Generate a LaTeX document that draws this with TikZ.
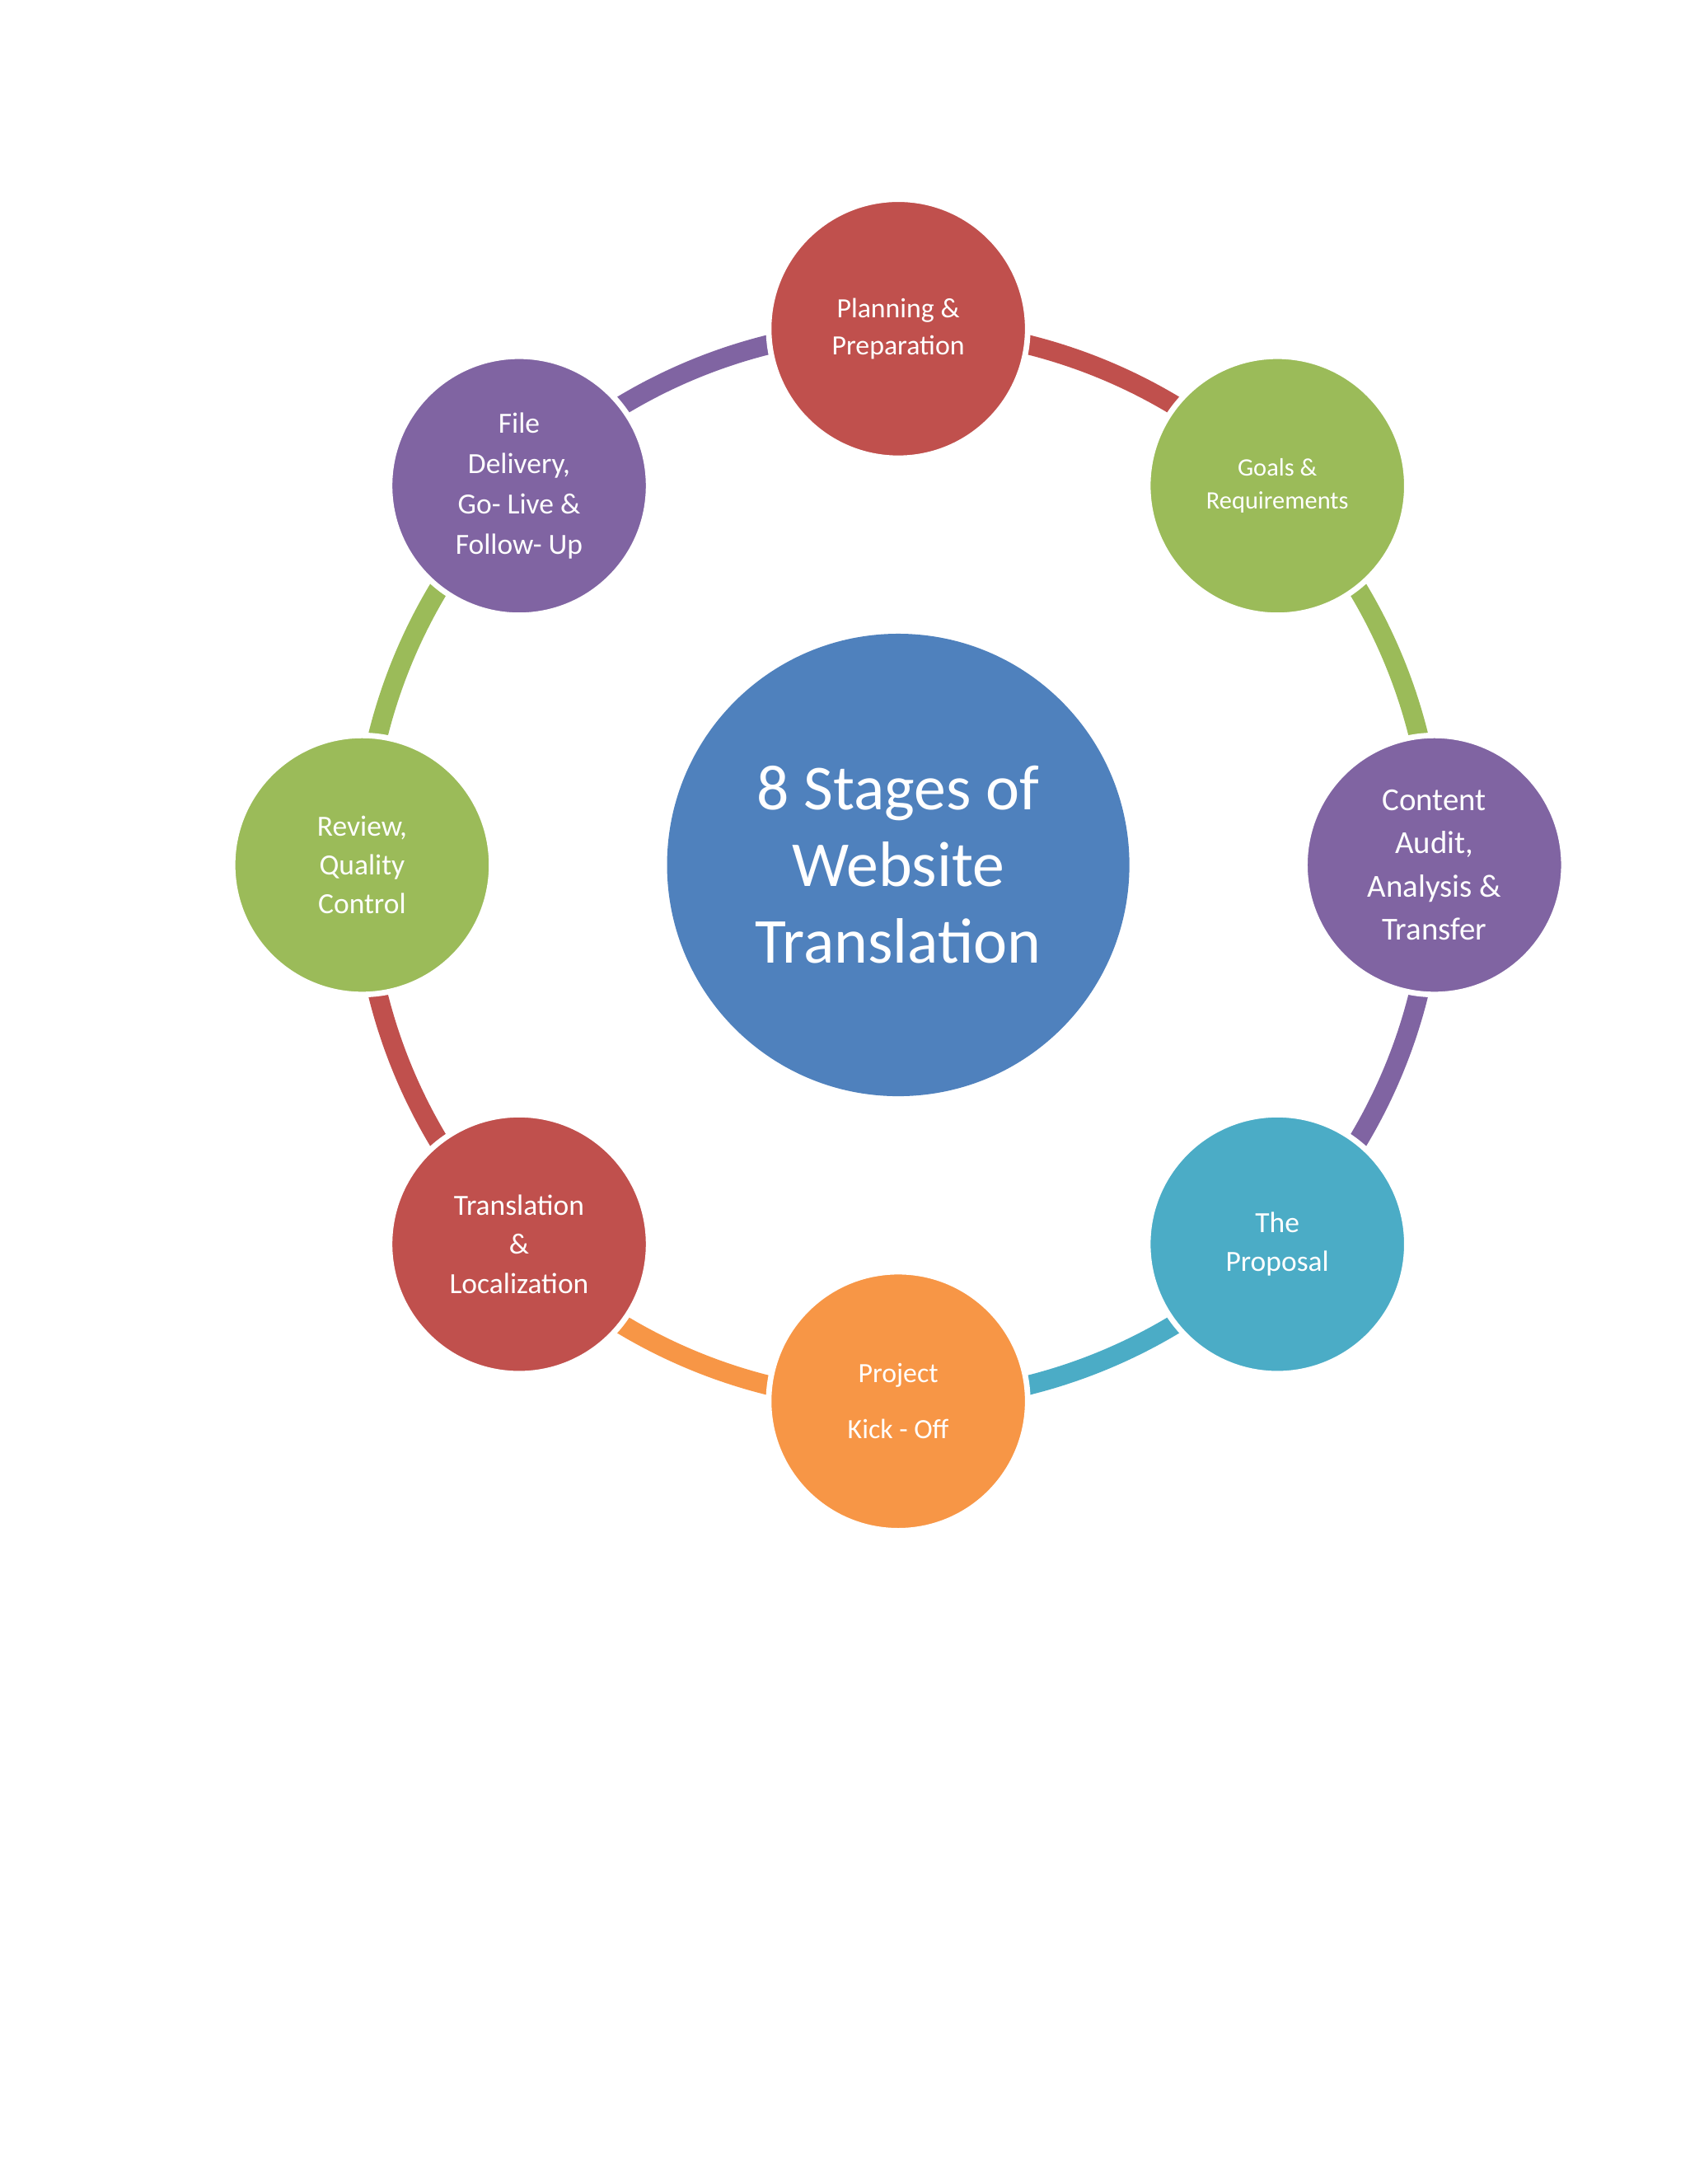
\documentclass[tikz,border=0pt]{standalone}
\usepackage{fontspec}
\setmainfont{Carlito}
\usetikzlibrary{calc}
\definecolor{cred}{HTML}{C0504D}
\definecolor{cgreen}{HTML}{9BBB59}
\definecolor{cpurple}{HTML}{8064A2}
\definecolor{cblue}{HTML}{4F81BD}
\definecolor{cteal}{HTML}{4BACC6}
\definecolor{corange}{HTML}{F79646}
\begin{document}
\begin{tikzpicture}[x=1pt,y=1pt,
  stage/.style={circle,minimum size=186pt,inner sep=0pt,draw=white,line width=4pt,text=white,align=center,font=\fontsize{20}{27}\selectfont},
  ring/.style={line width=14pt}]
\useasboundingbox[fill=white] (0,0) rectangle (1213,-1568);
\coordinate (c) at (645,-621);
\foreach \a/\col in {90/cred,45/cgreen,0/cpurple,-45/cteal,-90/corange,-135/cred,180/cgreen,135/cpurple}{
  \draw[ring,\col] ($(c)+(\a:385)$) arc[start angle=\a,delta angle=-45,radius=385];
}
\node[circle,fill=cblue,minimum size=332pt,inner sep=0pt,text=white,align=center,font=\fontsize{46}{55}\selectfont] (center) at (c) {8 Stages of\\Website\\Translation};
\node[stage,fill=cred] (plan) at ($(c)+(90:385)$) {Planning \&\\Preparation};
\node[stage,fill=cgreen,font=\fontsize{18}{24}\selectfont] (goals) at ($(c)+(45:385)$) {Goals \&\\Requirements};
\node[stage,fill=cpurple,font=\fontsize{23}{31}\selectfont] (audit) at ($(c)+(0:385)$) {Content\\Audit,\\Analysis \&\\Transfer};
\node[stage,fill=cteal,font=\fontsize{21}{28}\selectfont] (prop) at ($(c)+(-45:385)$) {The\\Proposal};
\node[stage,fill=corange,font=\fontsize{20}{40}\selectfont] (kick) at ($(c)+(-90:385)$) {Project\\Kick - Off};
\node[stage,fill=cred,font=\fontsize{21}{28}\selectfont] (trans) at ($(c)+(-135:385)$) {Translation\\\&\\Localization};
\node[stage,fill=cgreen,font=\fontsize{21}{28}\selectfont] (rev) at ($(c)+(180:385)$) {Review,\\Quality\\Control};
\node[stage,fill=cpurple,font=\fontsize{21}{29}\selectfont] (file) at ($(c)+(135:385)$) {File\\Delivery,\\Go- Live \&\\Follow- Up};
\end{tikzpicture}
\end{document}
